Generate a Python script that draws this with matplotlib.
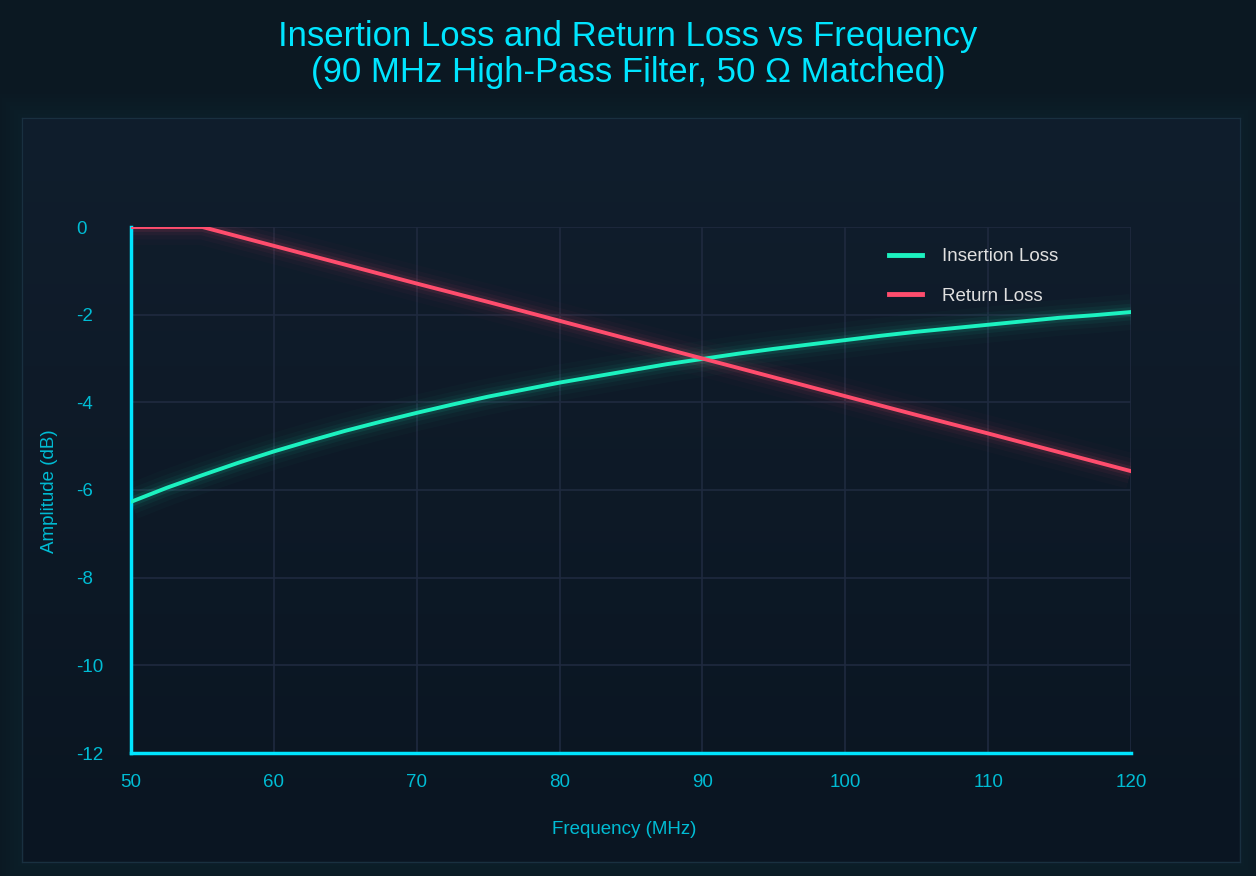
import numpy as np
import matplotlib
matplotlib.use("Agg")
import matplotlib.pyplot as plt
from matplotlib.patches import Rectangle
from matplotlib.colors import LinearSegmentedColormap

# ---- data ----
freq_mhz = [50, 52.5, 55, 57.5, 60, 62.5, 65, 67.5, 70, 72.5, 75, 77.5, 80, 82.5,
            85, 87.5, 90, 92.5, 95, 97.5, 100, 102.5, 105, 107.5, 110, 112.5,
            115, 117.5, 120]
insertion_loss_db = [-6.27, -5.95, -5.66, -5.38, -5.12, -4.88, -4.65, -4.44,
                     -4.24, -4.05, -3.87, -3.71, -3.55, -3.41, -3.27, -3.13,
                     -3.01, -2.89, -2.78, -2.68, -2.58, -2.48, -2.39, -2.31,
                     -2.23, -2.15, -2.07, -2.01, -1.94]
rl_freq_mhz = [50, 55, 60, 65, 70, 75, 80, 85, 90, 95, 100, 105, 110, 115, 120]
return_loss_db = [0.0, 0.0, -0.43, -0.86, -1.29, -1.71, -2.14, -2.57,
                  -3.00, -3.43, -3.86, -4.29, -4.71, -5.14, -5.57]
x_ticks = [50, 60, 70, 80, 90, 100, 110, 120]
y_ticks = [0, -2, -4, -6, -8, -10, -12]

title = "Insertion Loss and Return Loss vs Frequency\n(90 MHz High-Pass Filter, 50 \u03a9 Matched)"

plt.rcParams['font.family'] = ['Liberation Sans', 'DejaVu Sans']
plt.rcParams['axes.unicode_minus'] = False

W, H = 1256, 876
fig = plt.figure(figsize=(W / 100, H / 100), dpi=100)
fig.patch.set_facecolor('#0b1822')

# outer glow around panel
px0, py0, px1, py1 = 22, 118, 1240, 862
for i, a in enumerate([0.03, 0.03, 0.03, 0.04, 0.04, 0.05]):
    g = (6 - i) * 4
    fig.patches.append(Rectangle(((px0 - g) / W, 1 - (py1 + g) / H),
                                 (px1 - px0 + 2 * g) / W, (py1 - py0 + 2 * g) / H,
                                 transform=fig.transFigure, facecolor='#0f3a48',
                                 edgecolor='none', alpha=a, zorder=0))

# panel background gradient
bg = fig.add_axes([px0 / W, 1 - py1 / H, (px1 - px0) / W, (py1 - py0) / H], zorder=0)
grad = np.linspace(0, 1, 256).reshape(-1, 1)
cmap = LinearSegmentedColormap.from_list('bgc', ['#111827', '#0a0f1b'])
bg.imshow(grad, aspect='auto', cmap=cmap, extent=[0, 1, 0, 1])
bg.set_xticks([]); bg.set_yticks([])
for s in bg.spines.values():
    s.set_color('#1f3040'); s.set_linewidth(1)

ax = fig.add_axes([131 / W, 1 - 753 / H, 1000 / W, 526 / H], zorder=1)
ax.patch.set_alpha(0)

il_color = '#1cf2c0'
rl_color = '#ff4d6d'

# glow
for lw, a in [(26, 0.02), (18, 0.03), (12, 0.05), (7, 0.09)]:
    ax.plot(freq_mhz, insertion_loss_db, color=il_color, lw=lw, alpha=a,
            solid_capstyle='butt', zorder=2)
    ax.plot(rl_freq_mhz, return_loss_db, color=rl_color, lw=lw, alpha=a,
            solid_capstyle='butt', zorder=2)
ax.plot(freq_mhz, insertion_loss_db, color=il_color, lw=2.8, label='Insertion Loss', zorder=3)
ax.plot(rl_freq_mhz, return_loss_db, color=rl_color, lw=2.8, label='Return Loss', zorder=3)

ax.set_xlim(50, 120)
ax.set_ylim(-12, 0)
ax.set_xticks(x_ticks)
ax.set_yticks(y_ticks)
ax.grid(True, color='#1f2a3f', lw=1.2)
ax.set_axisbelow(True)
for s in ['top', 'right']:
    ax.spines[s].set_visible(False)
for s in ['left', 'bottom']:
    ax.spines[s].set_color('#00e5ff')
    ax.spines[s].set_linewidth(2.5)
ax.tick_params(length=0, colors='#00bcd4', labelsize=13.5)
ax.tick_params(axis='x', pad=15)
ax.tick_params(axis='y', pad=39.5)
for lab in ax.get_yticklabels():
    lab.set_horizontalalignment('left')

ax.set_xlabel('Frequency (MHz)', color='#00bcd4', fontsize=13.5)
ax.set_ylabel('Amplitude (dB)', color='#00bcd4', fontsize=13.5)
ax.xaxis.set_label_coords(0.493, -0.1445)
ax.xaxis.label.set_va('center')
ax.yaxis.set_label_coords(-0.081, 0.497)
ax.yaxis.label.set_va('center')

leg = ax.legend(loc='upper left', bbox_to_anchor=(0.758, 0.960), frameon=False,
                fontsize=13.5, handlelength=1.76, handletextpad=1.07,
                labelspacing=1.2, borderpad=0, borderaxespad=0)
for t in leg.get_texts():
    t.set_color('#e0e0e0')
for h in leg.legend_handles:
    h.set_linewidth(3.5)

fig.text(0.5, 1 - 54.5 / H, title, ha='center', va='center', color='#00e5ff',
         fontsize=25, linespacing=1.14)

fig.savefig('out.png', dpi=100, facecolor=fig.get_facecolor())
